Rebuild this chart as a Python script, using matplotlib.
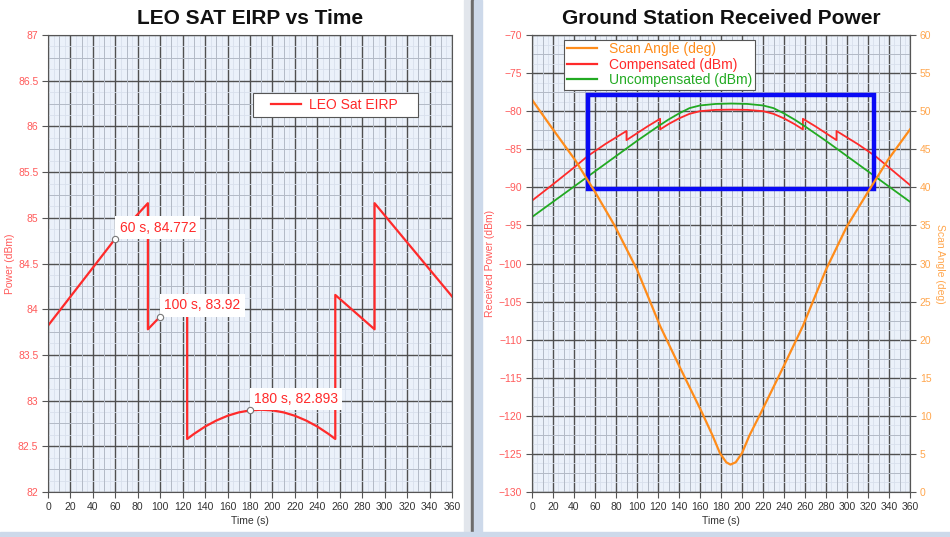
import numpy as np
import matplotlib
matplotlib.use("Agg")
import matplotlib.pyplot as plt
from matplotlib.ticker import MultipleLocator, StrMethodFormatter
from matplotlib.patches import Rectangle
from matplotlib.lines import Line2D
from matplotlib.legend_handler import HandlerLine2D

plt.rcParams['font.family'] = ['Liberation Sans', 'DejaVu Sans']

# left chart: LEO sat EIRP (dBm) vs time (s)
eirp_t = [0, 60, 89, 89, 100, 124, 124, 130, 140, 150, 160, 170, 180, 190,
          200, 210, 220, 230, 240, 250, 256, 256, 291, 291, 360]
eirp = [83.82, 84.772, 85.16, 83.78, 83.92, 84.16, 82.58, 82.635, 82.716,
        82.782, 82.834, 82.871, 82.893, 82.9, 82.893, 82.871, 82.834, 82.782,
        82.716, 82.635, 82.58, 84.156, 83.78, 85.16, 84.14]
mark_t = [60, 100, 180]
mark_v = [84.772, 83.92, 82.893]

# right chart: ground station received power
scan_t = [0, 20, 41, 60, 79, 100, 122, 140, 162, 172, 179, 185, 189, 194,
          200, 207, 218, 240, 258, 280, 300, 320, 339, 360]
scan = [51.5, 47.6, 43.6, 39.4, 34.9, 29.2, 21.8, 16.6, 10.4, 7.4, 5.1, 3.9,
        3.6, 3.9, 5.1, 7.4, 10.4, 16.6, 21.8, 29.2, 34.9, 39.4, 43.6, 47.6]

comp_t = [0, 20, 40, 53, 70, 90, 90, 100, 110, 122, 122, 130, 140, 150, 160,
          175, 190, 205, 220, 230, 240, 250, 258, 258, 270, 280, 290, 290,
          310, 327, 340, 360]
comp = [-91.75, -89.6, -87.4, -85.9, -84.3, -82.6, -83.8, -82.9, -82.0, -81.0,
        -82.4, -81.7, -80.95, -80.35, -80.0, -79.83, -79.8, -79.83, -80.0,
        -80.35, -80.95, -81.7, -82.4, -81.0, -82.0, -82.9, -83.8, -82.6,
        -84.3, -85.9, -87.4, -89.7]

unc_t = [0, 20, 40, 60, 80, 100, 120, 130, 140, 150, 160, 175, 190, 205, 220,
         230, 240, 250, 260, 280, 300, 320, 340, 360]
unc = [-93.9, -91.9, -89.9, -87.9, -85.9, -83.9, -82.0, -81.1, -80.3, -79.6,
       -79.25, -79.05, -79.0, -79.05, -79.25, -79.6, -80.3, -81.1, -82.0,
       -83.9, -85.9, -87.9, -89.9, -91.9]

box_t = [53, 326]
box_p = [-90.2, -77.9]

RED = '#ff2a2a'
TICKRED = '#ff5a5a'
ORANGE = '#ff8c1a'
TICKORANGE = '#ffa64d'
GREEN = '#22aa22'
W, H = 950, 537


def style_axes(ax, ymaj, ylim):
    ax.set_facecolor('#ebf1fa')
    ax.set_xlim(0, 360)
    ax.set_ylim(*ylim)
    ax.xaxis.set_major_locator(MultipleLocator(20))
    ax.xaxis.set_minor_locator(MultipleLocator(5))
    ax.yaxis.set_major_locator(MultipleLocator(ymaj))
    ax.yaxis.set_minor_locator(MultipleLocator(ymaj / 4))
    ax.yaxis.set_major_formatter(StrMethodFormatter('{x:g}'))
    ax.set_axisbelow(True)
    ax.grid(which='minor', color='#d8e0ec', lw=0.6)
    ax.grid(which='major', color='#505050', lw=1.0)
    for x in np.arange(10, 360, 20):
        ax.axvline(x, color='#b3bac6', lw=0.7, zorder=0.55)
    for y in np.arange(ylim[0] + ymaj / 2, ylim[1], ymaj):
        ax.axhline(y, color='#b3bac6', lw=0.7, zorder=0.55)
    for s in ax.spines.values():
        s.set_color('#555555')
    ax.tick_params(which='minor', length=0)
    ax.tick_params(which='major', length=4, color='#555555', labelsize=7.5,
                   pad=3)
    ax.tick_params(axis='x', labelcolor='#333333')
    ax.tick_params(axis='y', labelcolor=TICKRED)
    ax.set_xlabel('Time (s)', fontsize=7.5, color='#333333', labelpad=3)


fig = plt.figure(figsize=(W / 100, H / 100), dpi=100)
fig.patch.set_facecolor('white')

# window chrome between the two panels
fig.patches.append(Rectangle((464 / W, 0), 7 / W, 1, transform=fig.transFigure,
                             color='#e2e6ec', zorder=0))
fig.patches.append(Rectangle((471 / W, 0), 3 / W, 1, transform=fig.transFigure,
                             color='#6c6c6c', zorder=0))
fig.patches.append(Rectangle((474 / W, 0), 8 / W, 1, transform=fig.transFigure,
                             color='#cdd9ea', zorder=0))
fig.patches.append(Rectangle((0, 0), 1, 5 / H, transform=fig.transFigure,
                             color='#cdd9ea', zorder=0))

# ---- left chart ----
axl = fig.add_axes([48 / W, 45 / H, 404 / W, 457 / H])
style_axes(axl, 0.5, (82, 87))
eirp_line, = axl.plot(eirp_t, eirp, color=RED, lw=1.6)
axl.plot(mark_t, mark_v, 'o', ms=4.5, mfc='white', mec='#777777', mew=0.8,
         zorder=4)
for t, v in zip(mark_t, mark_v):
    axl.annotate(f'{t} s, {v:g}', (t, v), xytext=(3, 8),
                 textcoords='offset points', fontsize=10, color=RED,
                 va='center', ha='left', zorder=3,
                 bbox=dict(boxstyle='square,pad=0.3', fc='white', ec='none'))
axl.set_ylabel('Power (dBm)', fontsize=7.5, color=TICKRED)
axl.yaxis.set_label_coords(-0.082, 0.5)
axl.set_title('LEO SAT EIRP vs Time', fontsize=15, fontweight='bold',
              color='#111111', pad=8)
leg = axl.legend([eirp_line], ['LEO Sat EIRP    '], loc='upper right',
                 bbox_to_anchor=(0.916, 0.873), borderaxespad=0, fontsize=10,
                 fancybox=False, framealpha=1, edgecolor='#555555',
                 handlelength=3.1, handletextpad=0.6, borderpad=0.35,
                 labelcolor=[RED],
                 handler_map={eirp_line: HandlerLine2D(xpad=0.93)})
leg.get_frame().set_linewidth(0.8)

# ---- right chart ----
axr = fig.add_axes([532 / W, 45 / H, 378 / W, 457 / H])
style_axes(axr, 5, (-130, -70))
axr.plot(comp_t, comp, color=RED, lw=1.3)
axr.plot(unc_t, unc, color=GREEN, lw=1.3)
axr.add_patch(Rectangle((box_t[0], box_p[0]), box_t[1] - box_t[0],
                        box_p[1] - box_p[0], fill=False, ec='#0a0af5',
                        lw=3.2, zorder=3))
axr.set_ylabel('Received Power (dBm)', fontsize=7.5, color=TICKRED)
axr.yaxis.set_label_coords(-0.098, 0.5)
axr.set_title('Ground Station Received Power', fontsize=15, fontweight='bold',
              color='#111111', pad=8)

ax2 = axr.twinx()
ax2.set_ylim(0, 60)
ax2.yaxis.set_major_locator(MultipleLocator(5))
ax2.plot(scan_t, scan, color=ORANGE, lw=1.6)
ax2.tick_params(length=4, color='#555555', labelsize=7.5, pad=3,
                labelcolor=TICKORANGE)
ax2.set_ylabel('Scan Angle (deg)', fontsize=7.5, color=TICKORANGE,
               rotation=270, labelpad=10)
for s in ax2.spines.values():
    s.set_color('#555555')

handles = [Line2D([], [], color=ORANGE, lw=1.6),
           Line2D([], [], color=RED, lw=1.6),
           Line2D([], [], color=GREEN, lw=1.6)]
leg2 = ax2.legend(handles, ['Scan Angle (deg)', 'Compensated (dBm)',
                            'Uncompensated (dBm)'],
                  loc='upper left', bbox_to_anchor=(0.085, 0.99),
                  borderaxespad=0, fontsize=10, fancybox=False, framealpha=1,
                  edgecolor='#555555', handlelength=2.2, borderpad=0.2,
                  labelspacing=0.1, labelcolor=[ORANGE, RED, GREEN])
leg2.get_frame().set_linewidth(0.8)

fig.savefig('out.png', dpi=100)
